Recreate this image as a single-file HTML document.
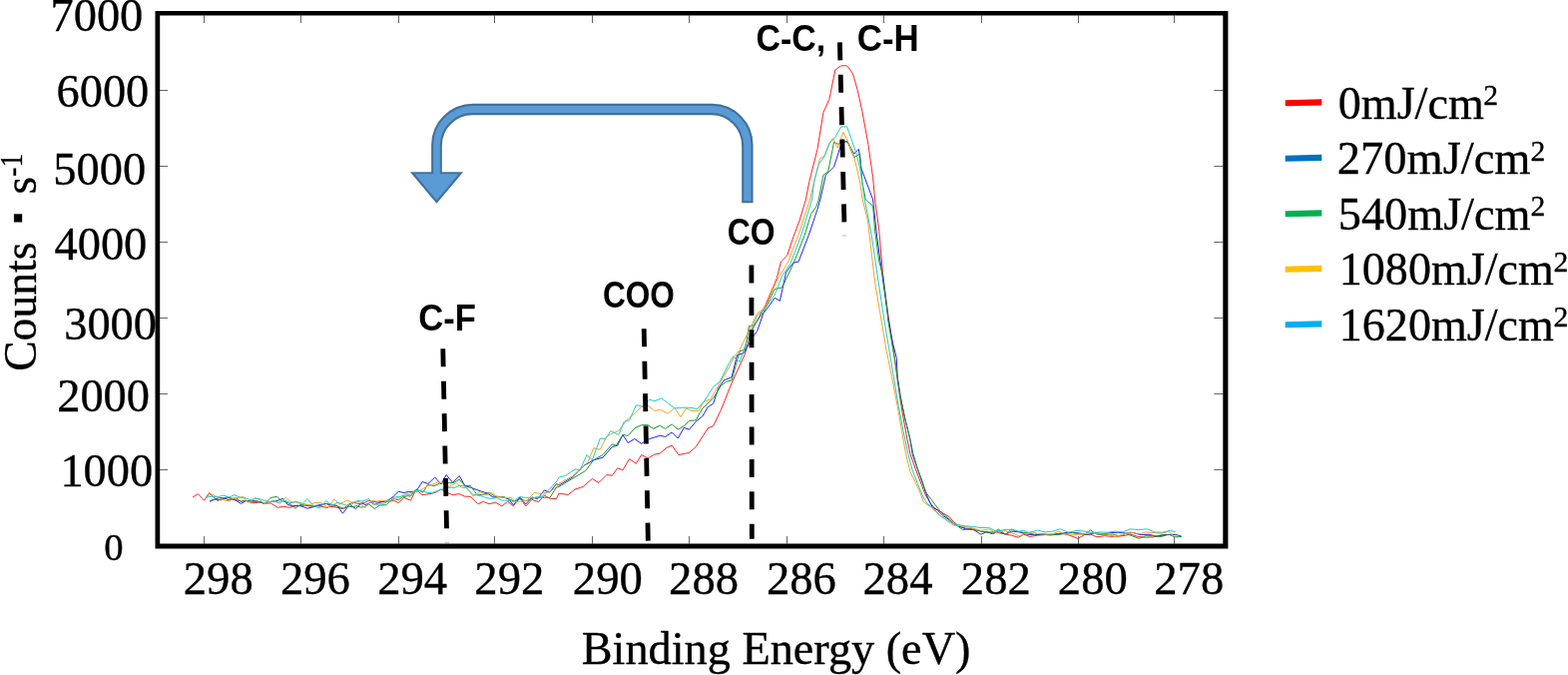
<!DOCTYPE html>
<html lang="en"><head><meta charset="utf-8"><title>XPS C1s spectra</title>
<style>
html,body{margin:0;padding:0;background:#fff;}
body{width:1571px;height:676px;overflow:hidden;}
svg{display:block;}
.ser{font-family:"Liberation Serif",serif;fill:#000;stroke:#000;stroke-width:0.35px;stroke-linejoin:round;}
.lab{font-family:"Liberation Sans",sans-serif;font-weight:bold;fill:#000;}
.cv{fill:none;stroke-width:1;stroke-linejoin:round;}
.dash{stroke:#000;stroke-width:4.8;stroke-dasharray:18 14.4;fill:none;}
.tick{stroke:#666;stroke-width:1;}
</style></head><body>
<svg width="1571" height="676" viewBox="0 0 1571 676">
<rect x="0" y="0" width="1571" height="676" fill="#fff"/>

<line class="tick" x1="204.5" y1="15.4" x2="204.5" y2="23"/>
<line class="tick" x1="204.5" y1="537" x2="204.5" y2="544.8"/>
<line class="tick" x1="301.5" y1="15.4" x2="301.5" y2="23"/>
<line class="tick" x1="301.5" y1="537" x2="301.5" y2="544.8"/>
<line class="tick" x1="399.5" y1="15.4" x2="399.5" y2="23"/>
<line class="tick" x1="399.5" y1="537" x2="399.5" y2="544.8"/>
<line class="tick" x1="495.5" y1="15.4" x2="495.5" y2="23"/>
<line class="tick" x1="495.5" y1="537" x2="495.5" y2="544.8"/>
<line class="tick" x1="593.5" y1="15.4" x2="593.5" y2="23"/>
<line class="tick" x1="593.5" y1="537" x2="593.5" y2="544.8"/>
<line class="tick" x1="690.5" y1="15.4" x2="690.5" y2="23"/>
<line class="tick" x1="690.5" y1="537" x2="690.5" y2="544.8"/>
<line class="tick" x1="788.5" y1="15.4" x2="788.5" y2="23"/>
<line class="tick" x1="788.5" y1="537" x2="788.5" y2="544.8"/>
<line class="tick" x1="885.5" y1="15.4" x2="885.5" y2="23"/>
<line class="tick" x1="885.5" y1="537" x2="885.5" y2="544.8"/>
<line class="tick" x1="983.5" y1="15.4" x2="983.5" y2="23"/>
<line class="tick" x1="983.5" y1="537" x2="983.5" y2="544.8"/>
<line class="tick" x1="1080.5" y1="15.4" x2="1080.5" y2="23"/>
<line class="tick" x1="1080.5" y1="537" x2="1080.5" y2="544.8"/>
<line class="tick" x1="1176.5" y1="15.4" x2="1176.5" y2="23"/>
<line class="tick" x1="1176.5" y1="537" x2="1176.5" y2="544.8"/>
<line class="tick" x1="160" y1="470.5" x2="168" y2="470.5"/>
<line class="tick" x1="1216.3" y1="470.5" x2="1225.5" y2="470.5"/>
<line class="tick" x1="160" y1="394.5" x2="168" y2="394.5"/>
<line class="tick" x1="1216.3" y1="394.5" x2="1225.5" y2="394.5"/>
<line class="tick" x1="160" y1="318.5" x2="168" y2="318.5"/>
<line class="tick" x1="1216.3" y1="318.5" x2="1225.5" y2="318.5"/>
<line class="tick" x1="160" y1="242.5" x2="168" y2="242.5"/>
<line class="tick" x1="1216.3" y1="242.5" x2="1225.5" y2="242.5"/>
<line class="tick" x1="160" y1="166.5" x2="168" y2="166.5"/>
<line class="tick" x1="1216.3" y1="166.5" x2="1225.5" y2="166.5"/>
<line class="tick" x1="160" y1="90.5" x2="168" y2="90.5"/>
<line class="tick" x1="1216.3" y1="90.5" x2="1225.5" y2="90.5"/>
<path class="cv" stroke="#ff2020" d="M193.0,498.1 L198.3,494.6 L204.5,501.2 L209.8,493.4 L214.3,498.5 L217.9,501.4 L222.6,499.6 L227.3,498.1 L232.1,499.6 L236.8,500.8 L241.5,502.0 L246.3,501.4 L251.0,503.2 L255.7,503.6 L260.5,502.8 L265.2,504.4 L271.1,503.8 L278.2,508.3 L284.1,507.3 L290.1,508.3 L296.0,506.7 L300.7,506.4 L305.4,506.2 L312.5,507.1 L317.3,506.4 L322.0,507.3 L327.9,508.5 L330.0,507.3 L334.9,507.7 L339.0,508.5 L343.8,509.6 L349.5,504.9 L353.6,503.2 L357.7,504.1 L361.7,504.9 L365.8,503.2 L369.9,501.2 L374.8,505.3 L379.6,503.6 L385.3,502.0 L390.2,502.4 L394.3,501.2 L399.2,503.6 L404.9,498.4 L411.4,501.2 L416.2,491.9 L419.5,492.7 L422.8,495.5 L427.6,495.1 L432.5,494.3 L436.6,493.1 L441.5,490.2 L445.5,491.4 L450.0,494.3 L454.1,495.8 L459.8,494.5 L465.5,497.1 L471.6,497.4 L478.9,504.7 L484.2,502.3 L489.9,504.7 L496.4,503.2 L502.9,506.9 L508.6,502.3 L514.3,506.7 L520.8,498.8 L526.9,506.9 L533.0,500.4 L539.5,502.6 L545.6,496.1 L550.9,499.3 L557.4,499.6 L560.0,494.1 L569.3,495.5 L576.0,490.1 L584.0,487.5 L593.3,479.5 L600.0,483.5 L607.9,475.5 L613.3,476.3 L618.6,468.8 L623.9,470.9 L630.6,459.5 L637.3,464.3 L642.6,455.5 L649.2,459.0 L655.9,455.0 L661.2,454.2 L667.9,448.3 L673.2,446.2 L679.9,455.5 L690.5,453.4 L697.2,447.5 L709.2,428.9 L714.5,426.7 L722.5,410.2 L733.1,383.6 L746.5,354.3 L752.4,332.5 L766.9,305.6 L778.3,278.7 L782.4,262.1 L788.7,255.9 L794.9,237.3 L801.1,220.7 L807.3,200.0 L810.7,182.4 L819.0,149.3 L824.9,112.7 L830.8,99.7 L836.8,70.1 L842.7,65.8 L848.6,65.8 L854.5,73.6 L859.2,90.2 L863.9,111.5 L869.9,144.6 L874.6,177.7 L876.6,200.0 L880.8,231.1 L884.9,278.7 L889.1,309.7 L890.6,320.0 L893.5,339.2 L896.3,358.5 L898.8,377.7 L901.5,396.9 L904.6,416.2 L908.8,439.2 L912.0,454.8 L917.2,469.6 L922.4,482.9 L926.8,494.7 L932.0,503.6 L936.4,508.8 L946.0,514.7 L951.2,517.7 L955.7,522.8 L960.1,526.5 L967.6,529.1 L975.3,529.8 L982.9,532.1 L990.6,532.9 L998.2,533.2 L1005.8,534.7 L1013.5,536.2 L1020.3,538.2 L1025.7,535.2 L1031.8,537.5 L1039.4,536.2 L1047.1,535.6 L1054.7,535.2 L1062.4,534.1 L1070.0,535.6 L1079.9,539.3 L1086.8,535.6 L1092.9,535.2 L1099.0,537.8 L1106.7,536.7 L1115.8,537.5 L1125.0,536.7 L1132.6,535.2 L1140.3,537.5 L1147.9,538.2 L1155.5,537.9 L1163.2,535.9 L1169.3,535.2"/>
<path class="cv" stroke="#2020ff" d="M210.2,501.7 L214.3,500.2 L220.2,498.5 L225.0,499.1 L229.7,500.8 L234.4,500.2 L241.5,504.4 L246.3,501.7 L251.0,501.4 L258.1,502.0 L265.2,504.4 L271.1,502.4 L277.0,501.7 L283.6,499.3 L288.3,505.6 L293.6,506.7 L298.3,506.2 L303.1,507.3 L307.8,509.1 L313.7,507.9 L319.6,505.6 L326.7,504.4 L330.0,505.7 L338.1,506.5 L343.4,514.2 L350.3,505.3 L356.4,509.6 L362.5,503.2 L365.8,505.7 L369.9,503.9 L373.1,502.0 L378.8,503.2 L383.7,502.4 L389.4,500.8 L394.3,497.1 L399.2,492.3 L404.9,493.5 L409.7,492.3 L414.6,492.3 L418.7,489.4 L423.2,482.5 L428.9,484.5 L435.8,478.0 L441.9,484.9 L447.2,475.4 L450.0,479.2 L453.7,483.3 L460.2,476.4 L465.9,486.6 L471.2,488.2 L476.9,490.2 L482.5,492.3 L488.2,493.9 L493.9,498.0 L498.8,497.5 L505.3,498.0 L509.4,500.0 L514.3,505.7 L520.8,498.0 L526.9,504.9 L533.0,498.0 L538.7,499.6 L545.2,491.0 L550.9,493.1 L557.4,484.5 L560.0,486.1 L573.3,478.1 L585.3,466.2 L594.6,460.8 L604.0,458.2 L613.3,447.5 L618.6,446.2 L623.9,435.5 L629.3,443.5 L635.9,439.5 L642.6,444.3 L650.6,439.5 L661.2,436.3 L666.6,437.4 L673.2,432.9 L679.3,439.0 L685.2,428.3 L690.5,430.2 L697.2,422.2 L703.8,416.9 L709.2,407.6 L714.5,404.4 L719.8,388.9 L725.2,380.9 L733.1,377.7 L738.5,355.6 L745.1,353.7 L755.5,335.6 L758.6,331.5 L764.8,313.9 L771.1,305.6 L776.2,298.3 L781.4,301.4 L787.6,272.5 L794.9,263.1 L800.0,262.1 L810.4,235.2 L818.7,210.4 L821.8,200.0 L827.3,175.3 L835.6,167.0 L842.7,144.6 L848.6,141.0 L855.7,154.0 L860.4,149.3 L862.8,168.2 L874.6,200.0 L878.7,237.3 L884.9,282.8 L890.0,320.0 L894.4,343.1 L898.3,358.5 L899.2,377.7 L902.1,396.9 L906.9,420.0 L911.7,439.2 L914.2,454.8 L918.7,468.1 L923.8,481.4 L927.5,493.3 L931.2,502.1 L934.2,508.0 L939.4,511.0 L945.3,516.9 L951.2,520.6 L955.7,525.1 L967.6,529.8 L975.3,530.6 L982.9,535.2 L988.3,532.6 L994.4,534.7 L1000.5,532.1 L1007.4,535.2 L1013.5,532.1 L1021.1,532.9 L1028.7,535.2 L1036.4,535.6 L1044.0,535.2 L1051.7,535.9 L1059.3,535.2 L1066.9,533.6 L1074.6,533.2 L1082.2,534.1 L1089.9,535.2 L1097.5,533.6 L1105.1,534.7 L1112.8,533.6 L1120.4,533.2 L1128.0,534.1 L1135.7,533.6 L1143.3,535.6 L1151.0,535.2 L1158.6,537.2 L1166.2,535.9 L1173.9,535.2 L1180.0,535.9 L1183.8,537.2"/>
<path class="cv" stroke="#169a26" d="M210.2,502.4 L215.5,500.2 L221.4,500.8 L227.3,497.6 L232.1,499.1 L236.8,499.1 L241.5,502.4 L246.3,501.4 L251.0,502.0 L258.1,502.4 L265.2,504.4 L271.1,498.5 L277.6,497.3 L281.8,501.4 L286.5,502.8 L291.2,505.0 L295.7,509.1 L300.7,505.6 L305.4,505.0 L310.2,506.2 L314.9,507.3 L322.0,506.2 L326.7,504.4 L330.0,504.9 L334.9,505.7 L339.0,507.3 L344.6,509.3 L349.5,507.3 L353.6,507.7 L356.9,506.5 L361.7,508.1 L365.8,507.3 L369.9,504.9 L375.2,509.6 L380.4,506.1 L387.0,505.7 L391.8,500.8 L395.1,499.6 L399.2,500.8 L403.2,498.0 L408.1,496.7 L411.4,497.1 L417.5,490.2 L423.6,493.1 L428.9,485.3 L435.0,486.6 L440.7,484.1 L444.7,483.3 L450.0,483.7 L454.9,483.3 L460.2,480.1 L465.9,486.6 L471.2,486.3 L477.7,495.1 L483.4,495.5 L489.9,493.5 L495.6,497.1 L500.4,497.4 L505.3,498.0 L509.4,499.6 L515.1,502.0 L520.8,499.6 L526.5,501.6 L531.4,500.0 L537.1,498.0 L543.6,498.2 L550.9,498.4 L557.4,488.2 L560.0,487.5 L573.3,479.5 L580.0,475.5 L586.6,471.5 L594.6,460.8 L604.0,455.5 L613.3,444.8 L617.3,446.2 L623.9,435.5 L629.3,436.3 L635.9,428.9 L642.6,425.7 L649.2,425.7 L654.6,429.4 L661.2,426.2 L666.6,429.4 L673.2,424.9 L679.3,430.2 L685.2,426.7 L690.5,421.4 L697.2,420.9 L703.8,408.9 L714.5,399.0 L722.5,386.2 L727.8,382.2 L733.1,380.9 L741.1,351.6 L746.5,350.3 L750.4,326.7 L755.5,325.9 L764.8,312.8 L776.2,289.4 L783.5,288.0 L794.9,264.2 L806.3,235.2 L812.5,214.5 L817.6,207.2 L820.3,200.0 L824.9,175.3 L829.7,171.8 L835.6,142.2 L840.3,144.6 L843.8,139.4 L849.8,143.4 L855.7,157.6 L861.6,154.0 L863.9,182.4 L867.3,200.0 L874.6,206.2 L876.6,231.1 L880.8,262.1 L884.9,276.6 L889.1,311.8 L889.6,320.0 L893.5,343.1 L896.9,362.3 L899.2,377.7 L902.1,396.9 L906.9,420.0 L911.7,439.2 L915.0,454.8 L919.4,469.6 L923.8,482.9 L928.3,494.0 L933.5,500.7 L939.4,508.8 L945.3,515.4 L950.5,519.1 L955.7,524.3 L964.6,530.6 L972.2,529.8 L979.9,531.4 L986.0,532.9 L993.6,533.6 L1000.5,530.1 L1007.4,535.2 L1013.5,530.1 L1021.1,532.6 L1028.7,533.6 L1036.4,535.2 L1044.0,534.4 L1051.7,535.6 L1059.3,535.6 L1066.9,534.4 L1074.6,533.6 L1080.7,534.7 L1086.8,535.2 L1092.6,531.0 L1099.0,535.2 L1106.7,535.6 L1114.3,535.2 L1121.9,536.7 L1128.0,534.4 L1134.2,536.7 L1141.0,539.3 L1147.9,536.7 L1155.5,536.7 L1163.2,537.5 L1170.8,535.2 L1176.9,537.8 L1183.8,537.5"/>
<path class="cv" stroke="#ffa020" d="M206.3,499.3 L211.0,494.6 L215.5,496.7 L220.2,499.1 L225.0,501.2 L229.7,501.7 L234.4,499.1 L239.2,498.1 L243.9,497.6 L248.6,503.2 L252.2,501.4 L255.7,498.5 L260.5,500.8 L265.2,504.7 L269.9,503.2 L274.7,501.4 L280.6,504.4 L286.5,498.1 L291.2,502.6 L296.0,502.8 L300.7,504.4 L305.4,505.0 L310.2,505.6 L314.9,503.6 L322.0,503.6 L327.9,507.9 L330.0,506.9 L334.9,500.0 L339.8,504.9 L343.8,503.2 L347.9,501.0 L352.8,503.2 L357.7,502.3 L360.9,503.2 L365.0,508.5 L369.1,504.5 L372.3,501.6 L377.2,502.0 L382.1,501.2 L387.0,501.6 L391.0,502.4 L395.1,499.6 L400.0,498.4 L404.9,495.5 L409.7,493.9 L414.6,493.1 L419.5,492.3 L424.4,489.0 L428.9,486.6 L434.1,484.9 L439.0,482.9 L443.9,484.1 L450.0,487.4 L457.3,483.7 L462.2,488.2 L467.9,488.6 L474.0,497.1 L480.9,492.3 L486.6,495.9 L492.7,493.5 L498.0,497.5 L502.1,498.0 L507.0,498.4 L511.8,498.4 L516.7,502.4 L521.6,502.4 L528.1,501.2 L535.4,493.3 L540.3,494.3 L545.2,493.9 L550.9,492.7 L557.4,487.8 L560.0,484.3 L573.3,476.8 L585.3,466.2 L589.3,462.2 L594.6,448.8 L601.3,450.2 L607.9,436.9 L613.3,434.2 L619.9,431.5 L626.6,422.2 L630.6,418.2 L635.9,414.2 L642.6,407.6 L649.2,406.2 L655.9,411.5 L661.2,410.2 L669.2,414.2 L675.9,408.4 L682.0,417.7 L687.3,408.9 L693.2,411.5 L699.9,411.5 L705.2,402.2 L711.8,400.1 L719.8,386.2 L730.5,367.6 L735.8,356.9 L741.1,350.3 L758.6,313.9 L766.9,307.7 L777.3,282.8 L789.7,262.1 L800.0,235.2 L811.4,200.0 L821.4,158.8 L826.1,156.4 L830.8,144.6 L834.4,138.7 L839.1,148.1 L845.0,132.3 L850.9,144.6 L855.7,156.4 L861.6,182.4 L864.2,200.0 L869.4,220.7 L876.6,282.8 L882.9,320.0 L887.7,348.8 L893.5,377.7 L899.2,406.5 L903.5,431.5 L907.6,454.8 L912.0,472.5 L917.9,484.4 L922.4,494.7 L925.3,502.9 L932.0,507.3 L940.9,515.4 L949.7,522.1 L954.9,525.8 L967.6,527.5 L975.3,529.1 L982.9,531.4 L990.6,529.8 L998.2,533.6 L1005.8,531.4 L1013.5,533.6 L1021.1,536.7 L1027.2,534.7 L1033.3,532.6 L1039.4,534.4 L1047.1,535.2 L1054.7,534.7 L1060.8,532.1 L1070.0,535.9 L1079.2,535.2 L1086.8,534.7 L1094.4,533.6 L1102.1,534.7 L1109.7,535.2 L1117.3,537.5 L1125.0,535.2 L1132.6,532.9 L1140.3,535.2 L1147.9,532.9 L1157.1,533.6 L1164.7,534.1 L1170.8,532.1 L1175.4,536.7"/>
<path class="cv" stroke="#1ccccc" d="M206.3,498.1 L212.0,497.3 L217.9,497.9 L223.8,496.1 L229.7,497.9 L235.0,495.7 L240.4,498.1 L246.3,498.8 L251.0,500.8 L258.1,499.1 L265.2,501.4 L269.9,502.6 L274.7,501.7 L278.2,503.6 L284.1,500.8 L291.2,503.6 L297.2,502.4 L303.1,504.4 L308.0,499.6 L313.7,506.2 L320.2,509.1 L326.7,501.4 L330.0,504.5 L334.1,505.7 L338.1,503.2 L343.0,504.9 L347.9,506.5 L352.8,504.9 L357.7,501.5 L362.5,502.0 L365.8,501.2 L369.5,499.6 L373.1,503.2 L377.2,505.3 L382.1,504.9 L387.0,503.2 L391.8,499.6 L396.7,497.5 L401.6,497.1 L406.5,495.9 L411.4,495.5 L415.4,491.9 L419.5,491.0 L424.4,492.3 L428.9,493.5 L432.5,493.5 L439.0,491.4 L444.7,489.4 L450.0,488.2 L454.9,488.6 L460.6,486.3 L465.5,487.0 L471.2,492.7 L474.4,495.5 L480.1,496.3 L485.8,498.0 L491.5,499.6 L498.0,498.4 L502.9,501.2 L508.6,501.2 L514.3,502.4 L520.8,497.5 L526.5,498.4 L531.4,498.2 L537.9,498.5 L543.6,496.7 L550.9,489.4 L557.4,482.5 L560.0,478.1 L566.7,476.3 L576.0,470.2 L581.3,470.2 L588.0,455.5 L593.3,460.8 L601.3,439.0 L606.6,439.5 L611.9,431.5 L619.9,435.5 L625.3,422.2 L630.6,420.9 L637.3,405.7 L643.9,407.0 L650.6,400.1 L655.9,401.7 L662.6,398.8 L669.2,403.6 L675.9,408.9 L685.2,408.1 L693.2,408.4 L698.5,409.7 L705.2,402.2 L714.5,387.6 L721.2,382.2 L730.5,363.6 L734.5,356.9 L741.1,362.3 L746.5,346.3 L758.6,315.9 L766.9,308.7 L776.2,295.2 L783.5,276.6 L791.8,264.2 L802.1,237.3 L813.5,200.0 L815.5,182.4 L820.2,164.7 L826.1,156.4 L830.8,143.4 L836.8,137.5 L842.7,126.9 L848.6,126.9 L853.3,139.9 L858.0,154.0 L861.6,168.2 L866.3,200.0 L872.5,231.1 L880.8,287.0 L885.8,320.0 L890.6,348.8 L895.4,377.7 L900.2,406.5 L905.0,431.5 L909.8,454.8 L914.2,471.1 L919.4,484.4 L924.6,497.0 L929.0,504.3 L935.7,509.5 L942.3,516.9 L949.7,521.4 L957.1,525.1 L967.6,526.8 L975.3,527.5 L982.9,528.6 L990.6,528.3 L998.2,532.1 L1005.8,530.6 L1013.5,530.6 L1021.1,532.1 L1025.7,531.4 L1031.8,533.6 L1039.4,531.0 L1047.1,532.9 L1054.7,532.1 L1062.4,529.8 L1070.0,533.2 L1079.2,531.4 L1086.8,532.1 L1094.4,533.6 L1102.1,532.9 L1109.7,533.2 L1117.3,532.1 L1125.0,532.9 L1132.6,529.8 L1140.3,530.6 L1149.4,529.8 L1157.1,532.9 L1164.7,533.2 L1172.3,531.4 L1177.7,532.6"/>
<path d="M155.5,11 H1230.4 V549.6 H155.5 Z M160.2,15.6 V544.4 H1225.3 V15.6 Z" fill="#000" fill-rule="evenodd"/>
<text class="ser" x="50.48" y="31.30" font-size="46.67" textLength="92.87" lengthAdjust="spacingAndGlyphs">7000</text>
<text class="ser" x="56.48" y="107.20" font-size="46.67" textLength="92.87" lengthAdjust="spacingAndGlyphs">6000</text>
<text class="ser" x="53.28" y="185.20" font-size="46.67" textLength="92.87" lengthAdjust="spacingAndGlyphs">5000</text>
<text class="ser" x="54.48" y="260.20" font-size="46.67" textLength="92.87" lengthAdjust="spacingAndGlyphs">4000</text>
<text class="ser" x="64.18" y="339.60" font-size="46.67" textLength="92.87" lengthAdjust="spacingAndGlyphs">3000</text>
<text class="ser" x="57.18" y="411.50" font-size="46.67" textLength="92.87" lengthAdjust="spacingAndGlyphs">2000</text>
<text class="ser" x="60.38" y="486.70" font-size="46.67" textLength="92.87" lengthAdjust="spacingAndGlyphs">1000</text>
<text class="ser" x="104.39" y="560.90" font-size="37" textLength="19.31" lengthAdjust="spacingAndGlyphs">0</text>
<text class="ser" x="183.74" y="595.20" font-size="46.67" textLength="70.00" lengthAdjust="spacingAndGlyphs">298</text>
<text class="ser" x="280.94" y="595.20" font-size="46.67" textLength="70.00" lengthAdjust="spacingAndGlyphs">296</text>
<text class="ser" x="378.14" y="595.20" font-size="46.67" textLength="70.00" lengthAdjust="spacingAndGlyphs">294</text>
<text class="ser" x="475.34" y="595.20" font-size="46.67" textLength="70.00" lengthAdjust="spacingAndGlyphs">292</text>
<text class="ser" x="573.84" y="595.20" font-size="46.67" textLength="70.00" lengthAdjust="spacingAndGlyphs">290</text>
<text class="ser" x="670.14" y="595.20" font-size="46.67" textLength="70.00" lengthAdjust="spacingAndGlyphs">288</text>
<text class="ser" x="767.94" y="595.20" font-size="46.67" textLength="70.00" lengthAdjust="spacingAndGlyphs">286</text>
<text class="ser" x="864.54" y="595.20" font-size="46.67" textLength="70.00" lengthAdjust="spacingAndGlyphs">284</text>
<text class="ser" x="962.84" y="595.20" font-size="46.67" textLength="70.00" lengthAdjust="spacingAndGlyphs">282</text>
<text class="ser" x="1059.84" y="595.20" font-size="46.67" textLength="70.00" lengthAdjust="spacingAndGlyphs">280</text>
<text class="ser" x="1156.24" y="595.20" font-size="46.67" textLength="70.00" lengthAdjust="spacingAndGlyphs">278</text>
<text class="ser" x="582.78" y="665.20" font-size="46.67" textLength="389.69" lengthAdjust="spacingAndGlyphs">Binding Energy (eV)</text>
<g transform="translate(35.7,370.4) rotate(-90)">
<text class="ser"><tspan x="-1.43" y="0.00" font-size="46.67" textLength="129.28" lengthAdjust="spacingAndGlyphs">Counts</tspan><tspan x="146.2" y="-7.5" font-size="32">▪</tspan><tspan x="175.99" y="0.00" font-size="46.67" textLength="17.55" lengthAdjust="spacingAndGlyphs">s</tspan><tspan x="193.75" y="-14.10" font-size="32" textLength="22.73" lengthAdjust="spacingAndGlyphs">-1</tspan></text>
</g>
<path d="M1287.7,100.2 L1324.3,99.3 L1324.3,105.4 L1287.7,106.2 Z" fill="#ff0000"/>
<text class="ser"><tspan x="1340.66" y="118.90" font-size="46.67" textLength="146.21" lengthAdjust="spacingAndGlyphs">0mJ/cm</tspan><tspan x="1486.19" y="105.40" font-size="29.6" textLength="14.80" lengthAdjust="spacingAndGlyphs">2</tspan></text>
<path d="M1287.7,155.7 L1324.3,154.8 L1324.3,160.9 L1287.7,161.7 Z" fill="#0070c0"/>
<text class="ser"><tspan x="1339.75" y="174.40" font-size="46.67" textLength="193.72" lengthAdjust="spacingAndGlyphs">270mJ/cm</tspan><tspan x="1533.39" y="160.90" font-size="29.6" textLength="14.80" lengthAdjust="spacingAndGlyphs">2</tspan></text>
<path d="M1287.7,211.2 L1324.3,210.3 L1324.3,216.4 L1287.7,217.2 Z" fill="#00b050"/>
<text class="ser"><tspan x="1340.83" y="229.90" font-size="46.67" textLength="192.63" lengthAdjust="spacingAndGlyphs">540mJ/cm</tspan><tspan x="1533.39" y="216.40" font-size="29.6" textLength="14.80" lengthAdjust="spacingAndGlyphs">2</tspan></text>
<path d="M1287.7,266.7 L1324.3,265.8 L1324.3,271.9 L1287.7,272.7 Z" fill="#ffc000"/>
<text class="ser"><tspan x="1341.80" y="285.40" font-size="46.67" textLength="214.96" lengthAdjust="spacingAndGlyphs">1080mJ/cm</tspan><tspan x="1556.49" y="271.90" font-size="29.6" textLength="14.80" lengthAdjust="spacingAndGlyphs">2</tspan></text>
<path d="M1287.7,322.2 L1324.3,321.3 L1324.3,327.4 L1287.7,328.2 Z" fill="#00b0f0"/>
<text class="ser"><tspan x="1341.80" y="340.90" font-size="46.67" textLength="214.96" lengthAdjust="spacingAndGlyphs">1620mJ/cm</tspan><tspan x="1556.49" y="327.40" font-size="29.6" textLength="14.80" lengthAdjust="spacingAndGlyphs">2</tspan></text>
<line class="dash" x1="443.8" y1="349.3" x2="447.5" y2="529.3"/>
<line class="dash" x1="645.2" y1="329.3" x2="649.3" y2="541.8"/>
<line class="dash" x1="752.9" y1="265.5" x2="753.3" y2="539.7"/>
<line class="dash" x1="841.4" y1="42.4" x2="845.9" y2="222.4"/>
<line x1="445.5" y1="543.4" x2="450" y2="543.4" stroke="#bbb" stroke-width="1"/>
<line x1="843.5" y1="236" x2="848" y2="236" stroke="#bbb" stroke-width="1"/>
<text class="lab" x="419.32" y="330.80" font-size="36" textLength="57.72" lengthAdjust="spacingAndGlyphs">C-F</text>
<text class="lab" x="604.01" y="307.80" font-size="36" textLength="71.86" lengthAdjust="spacingAndGlyphs">COO</text>
<text class="lab" x="728.70" y="245.00" font-size="36" textLength="47.78" lengthAdjust="spacingAndGlyphs">CO</text>
<text class="lab" x="757.54" y="50.60" font-size="36" textLength="69.66" lengthAdjust="spacingAndGlyphs">C-C,</text>
<text class="lab" x="858.71" y="50.60" font-size="36" textLength="61.99" lengthAdjust="spacingAndGlyphs">C-H</text>
<path d="M753.5,202.2 L753.5,146 A40.3,40.3 0 0 0 713.2,104.9 L474.2,104.9 A41,40.3 0 0 0 433.2,145.6 L433.2,173.2 L413.2,173.2 L437.5,202.1 L461.8,173.2 L441.8,173.2 L441.8,146 A31.5,31.8 0 0 1 473.3,114.1 L713,114.1 A31.2,31.9 0 0 1 744.2,146 L744.2,202.2 Z" fill="#5b9bd5" stroke="#41719c" stroke-width="2.1" stroke-linejoin="miter"/>
</svg></body></html>
